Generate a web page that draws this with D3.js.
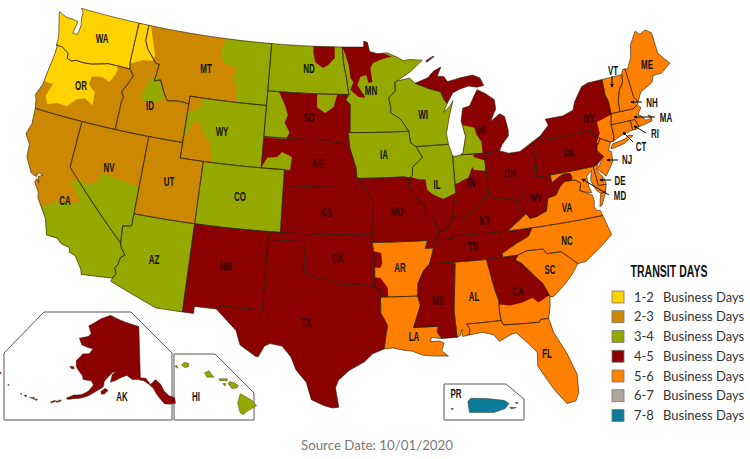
<!DOCTYPE html>
<html>
<head>
<meta charset="utf-8">
<script src="https://d3js.org/d3.v7.min.js"></script>
<style>
html, body { margin: 0; background: #fff; }
svg { display: block; }
.st { font-family: "Liberation Sans", sans-serif; font-weight: bold; font-size: 12px; text-anchor: middle; }
.lg { font-family: Lato, sans-serif; font-size: 13px; fill: #333; }
</style>
</head>
<body>
<script>
// legend
const dayRanges = ["1-2", "2-3", "3-4", "4-5", "5-6", "6-7", "7-8"];
const dayColors = ["#FFD200", "#CC8800", "#94A800", "#8B0000", "#FF8000", "#AFA79B", "#0A7C99"];

// state outlines, lon/lat
const WA = [[-122.76,49],[-117.03,49],[-117.04,46.42],[-116.92,45.99],[-118.98,46],[-119.3,45.93],[-120.5,45.7],[-121.2,45.65],[-121.9,45.68],[-122.3,45.55],[-122.76,45.65],[-122.8,45.95],[-123.2,46.15],[-123.55,46.26],[-124.05,46.27],[-124.07,46.7],[-124.15,47],[-124.4,47.6],[-124.72,48.38],[-123.9,48.17],[-123.1,48.15],[-122.75,48.1],[-122.9,47.3],[-122.45,47.3],[-122.35,47.9],[-122.5,48.4],[-122.5,48.75]];
const OR = [[-124.05,46.27],[-123.55,46.26],[-123.2,46.15],[-122.8,45.95],[-122.76,45.65],[-122.3,45.55],[-121.9,45.68],[-121.2,45.65],[-120.5,45.7],[-119.3,45.93],[-118.98,46],[-116.92,45.99],[-116.48,45.6],[-116.85,44.95],[-117.2,44.45],[-117.03,44.25],[-116.93,44.1],[-117.03,43.85],[-117.03,42],[-120,42],[-124.21,42],[-124.4,42.6],[-124.55,42.84],[-124.2,43.6],[-124.1,44.6],[-123.97,45.5],[-123.95,46.18]];
const CA = [[-124.21,42],[-120,42],[-120,39],[-114.63,35],[-114.57,34.8],[-114.14,34.3],[-114.43,34.1],[-114.53,33.6],[-114.72,33.4],[-114.52,33.03],[-114.72,32.72],[-117.12,32.53],[-117.25,32.85],[-117.9,33.6],[-118.4,33.74],[-118.5,34.03],[-119.2,34.15],[-119.6,34.42],[-120.47,34.45],[-120.65,34.9],[-120.85,35.4],[-121.9,36.6],[-122,36.95],[-122.5,37.5],[-122.4,37.75],[-122.15,37.5],[-122.35,37.9],[-122,38.05],[-122.4,38.15],[-122.5,37.85],[-123,38],[-123.7,38.9],[-123.8,39.7],[-124.35,40.3],[-124.1,41]];
const NV = [[-120,42],[-114.04,42],[-114.04,36.2],[-114.75,36.1],[-114.63,35],[-120,39]];
const ID = [[-117.03,49],[-116.05,49],[-116.05,48],[-115.7,47.5],[-114.7,46.7],[-114.35,46.65],[-114.5,45.55],[-113.95,45.7],[-113.45,44.95],[-113,44.45],[-112.3,44.55],[-111.5,44.55],[-111.05,44.48],[-111.05,42],[-114.04,42],[-117.03,42],[-117.03,43.85],[-116.93,44.1],[-117.03,44.25],[-117.2,44.45],[-116.85,44.95],[-116.48,45.6],[-116.92,45.99],[-117.04,46.42]];
const MT = [[-116.05,49],[-104.05,49],[-104.05,45],[-111.05,45],[-111.05,44.48],[-111.5,44.55],[-112.3,44.55],[-113,44.45],[-113.45,44.95],[-113.95,45.7],[-114.5,45.55],[-114.35,46.65],[-114.7,46.7],[-115.7,47.5],[-116.05,48]];
const WY = [[-111.05,45],[-104.05,45],[-104.05,41],[-111.05,41]];
const UT = [[-114.04,42],[-111.05,42],[-111.05,41],[-109.05,41],[-109.05,37],[-114.04,37]];
const CO = [[-109.05,41],[-102.05,41],[-102.05,37],[-109.05,37]];
const AZ = [[-114.04,37],[-109.05,37],[-109.05,31.33],[-111.07,31.33],[-114.81,32.5],[-114.72,32.72],[-114.52,33.03],[-114.72,33.4],[-114.53,33.6],[-114.43,34.1],[-114.14,34.3],[-114.57,34.8],[-114.63,35],[-114.75,36.1],[-114.04,36.2]];
const NM = [[-109.05,37],[-103,37],[-103.04,32],[-106.62,32],[-106.53,31.78],[-108.21,31.78],[-108.21,31.33],[-109.05,31.33]];
const TX = [[-103.04,36.5],[-100,36.5],[-100,34.56],[-99.2,34.3],[-98.6,34.15],[-98.1,34.13],[-97.2,33.85],[-96.6,33.85],[-95.5,33.88],[-94.48,33.64],[-94.04,33.55],[-94.04,33.02],[-94.04,31.99],[-93.55,31.2],[-93.7,30.5],[-93.85,29.7],[-94.7,29.4],[-95.3,28.9],[-96.4,28.35],[-97.2,27.7],[-97.4,27.2],[-97.15,25.96],[-97.6,25.9],[-98.2,26.05],[-99.1,26.4],[-99.5,27.5],[-100.3,28.3],[-100.7,29.1],[-101.4,29.77],[-102.3,29.88],[-102.7,29.7],[-103.1,28.98],[-103.3,29],[-104.5,29.65],[-104.9,30.55],[-106,31.39],[-106.53,31.78],[-106.62,32],[-103.04,32]];
const OK = [[-103,37],[-94.62,37],[-94.62,36.5],[-94.43,35.4],[-94.48,33.64],[-95.5,33.88],[-96.6,33.85],[-97.2,33.85],[-98.1,34.13],[-98.6,34.15],[-99.2,34.3],[-100,34.56],[-100,36.5],[-103.04,36.5]];
const KS = [[-102.05,40],[-95.3,40],[-94.9,39.75],[-94.61,39.11],[-94.62,37],[-102.05,37]];
const NE = [[-104.05,43],[-98.5,43],[-97.9,42.8],[-97.2,42.85],[-96.45,42.49],[-96.1,41.7],[-95.9,41.2],[-95.85,40.7],[-95.3,40],[-102.05,40],[-102.05,41],[-104.05,41]];
const SD = [[-104.05,45.94],[-96.56,45.94],[-96.85,45.6],[-96.45,45.3],[-96.45,43.5],[-96.6,43.5],[-96.45,42.49],[-97.2,42.85],[-97.9,42.8],[-98.5,43],[-104.05,43]];
const ND = [[-104.05,49],[-97.23,49],[-97.1,48],[-96.8,47],[-96.56,45.94],[-104.05,45.94]];
const MN = [[-97.23,49],[-95.15,49],[-95.15,49.38],[-94.8,49.3],[-94.6,48.7],[-93.8,48.55],[-92.95,48.6],[-92,48.3],[-91.4,48.05],[-90.75,48.1],[-89.6,48],[-90.8,47.3],[-92.1,46.75],[-92.29,46.66],[-92.29,46.1],[-92.9,45.7],[-92.75,45],[-92.8,44.75],[-91.9,44.3],[-91.22,43.5],[-96.45,43.5],[-96.45,45.3],[-96.85,45.6],[-96.56,45.94],[-96.8,47],[-97.1,48]];
const IA = [[-96.6,43.5],[-91.22,43.5],[-91.1,42.75],[-90.65,42.5],[-90.15,41.8],[-91.05,41.2],[-91.1,40.7],[-91.42,40.38],[-91.73,40.61],[-95.77,40.58],[-95.85,40.7],[-95.9,41.2],[-96.1,41.7],[-96.45,42.49]];
const MO = [[-95.77,40.58],[-91.73,40.61],[-91.42,40.38],[-91.5,40],[-90.75,39.25],[-90.7,38.9],[-90.15,38.8],[-90.2,38.4],[-89.55,37.9],[-89.15,37],[-89.45,36.5],[-89.7,36],[-90.37,36],[-90.15,36.5],[-94.62,36.5],[-94.62,37],[-94.61,39.11],[-94.9,39.75],[-95.3,40]];
const AR = [[-94.62,36.5],[-90.15,36.5],[-90.37,36],[-89.7,36],[-90.1,35],[-90.6,34.6],[-91.1,33.8],[-91.17,33],[-94.04,33.02],[-94.04,33.55],[-94.48,33.64],[-94.43,35.4]];
const LA = [[-94.04,33.02],[-91.17,33],[-91,32.4],[-91.6,31],[-89.73,31],[-89.85,30.65],[-89.55,30.2],[-90.3,30.3],[-90.4,30.05],[-89.7,30.05],[-89.4,29.9],[-89.6,29.4],[-89.15,29.05],[-90.1,29.1],[-91,29.2],[-91.8,29.5],[-92.3,29.55],[-93.2,29.75],[-93.85,29.7],[-93.7,30.5],[-93.55,31.2],[-94.04,31.99]];
const MS = [[-90.1,35],[-88.2,35],[-88.1,34.9],[-88.47,31.9],[-88.4,30.2],[-89.55,30.2],[-89.85,30.65],[-89.73,31],[-91.6,31],[-91,32.4],[-91.17,33],[-91.1,33.8],[-90.6,34.6]];
const AL = [[-88.2,35],[-85.6,34.98],[-85.18,32.87],[-85,32.3],[-85.05,31.55],[-85,31],[-87.6,31],[-87.4,30.65],[-87.5,30.28],[-88,30.23],[-88,30.7],[-88.15,30.3],[-88.4,30.2],[-88.47,31.9],[-88.1,34.9]];
const TN = [[-89.45,36.5],[-88.05,36.5],[-88.07,36.68],[-83.68,36.6],[-81.68,36.59],[-82.05,36.1],[-83.1,35.75],[-84.3,35.25],[-84.32,34.99],[-85.6,34.98],[-88.2,35],[-90.1,35],[-89.7,36]];
const KY = [[-89.45,36.5],[-89.15,37],[-88.5,37.1],[-88.05,37.8],[-87.1,37.8],[-86.5,38],[-85.8,38.28],[-85.4,38.72],[-84.8,39.1],[-84.2,38.8],[-83.7,38.65],[-82.85,38.6],[-82.6,38.2],[-81.97,37.54],[-83.68,36.6],[-88.07,36.68],[-88.05,36.5]];
const VA = [[-83.68,36.6],[-81.97,37.54],[-81.7,37.2],[-81.2,37.25],[-80.3,37.5],[-80,38.3],[-79.3,38.4],[-78.9,38.85],[-78.4,39.15],[-77.83,39.13],[-77.5,39.1],[-77.1,38.85],[-77.3,38.4],[-76.95,38.25],[-76.35,37.95],[-76.3,37.55],[-76.4,37.25],[-76.3,36.95],[-75.98,36.9],[-75.87,36.55],[-81.68,36.59]];
const VA_SHORE = [[-75.95,37.15],[-75.65,37.95],[-75.2,38.03],[-75.75,37.2]];
const WV = [[-82.6,38.2],[-82.2,38.6],[-81.75,39],[-81.7,39.25],[-80.85,39.7],[-80.65,40.6],[-80.52,40.64],[-80.52,39.72],[-79.48,39.72],[-79.48,39.2],[-78.9,39.45],[-78.4,39.62],[-77.83,39.6],[-77.72,39.32],[-77.83,39.13],[-78.4,39.15],[-78.9,38.85],[-79.3,38.4],[-80,38.3],[-80.3,37.5],[-81.2,37.25],[-81.7,37.2],[-81.97,37.54]];
const OH = [[-84.8,41.7],[-83.45,41.73],[-82.7,41.5],[-81.7,41.5],[-80.52,41.98],[-80.52,40.64],[-80.65,40.6],[-80.85,39.7],[-81.7,39.25],[-81.75,39],[-82.2,38.6],[-82.6,38.2],[-82.85,38.6],[-83.7,38.65],[-84.2,38.8],[-84.8,39.1]];
const IN = [[-87.53,41.72],[-87.2,41.7],[-86.8,41.76],[-84.8,41.7],[-84.8,39.1],[-85.4,38.72],[-85.8,38.28],[-86.5,38],[-87.1,37.8],[-88.05,37.8],[-87.55,39.35]];
const IL = [[-90.65,42.5],[-87.8,42.5],[-87.53,41.72],[-87.55,39.35],[-88.05,37.8],[-88.5,37.1],[-89.15,37],[-89.55,37.9],[-90.2,38.4],[-90.15,38.8],[-90.7,38.9],[-90.75,39.25],[-91.5,40],[-91.42,40.38],[-91.1,40.7],[-91.05,41.2],[-90.15,41.8]];
const WI = [[-92.29,46.66],[-92.1,46.75],[-90.9,46.9],[-90.4,46.55],[-89.1,46.13],[-88.1,45.9],[-87.85,45.35],[-87.6,45.1],[-88,44.55],[-87.4,44.9],[-87.05,45.25],[-87.5,44.3],[-87.9,43.2],[-87.8,42.5],[-90.65,42.5],[-91.1,42.75],[-91.22,43.5],[-91.9,44.3],[-92.8,44.75],[-92.75,45],[-92.9,45.7],[-92.29,46.1]];
const MI_UP = [[-90.4,46.55],[-89.1,46.13],[-88.1,45.9],[-87.85,45.35],[-87.6,45.1],[-87,45.75],[-86.3,45.95],[-85.5,46.08],[-84.75,45.95],[-84.1,46],[-84.35,46.5],[-85,46.75],[-86.1,46.67],[-87.4,46.5],[-87.7,46.85],[-88.3,46.9],[-87.9,47.47],[-88.6,47.25],[-89.2,46.85]];
const MI_LOW = [[-86.8,41.76],[-84.8,41.7],[-83.45,41.73],[-83.15,42.1],[-82.5,42.6],[-82.45,43],[-82.6,43.85],[-83,44.07],[-83.9,43.65],[-83.3,44.4],[-83.3,45],[-84.1,45.5],[-84.75,45.78],[-85.1,45.4],[-85.6,44.8],[-86.25,44.7],[-86.5,43.9],[-86.25,42.9],[-86.6,41.9]];
const MI_ISLE = [[-89.2,47.85],[-88.45,48.18],[-88.6,48.2],[-89.25,47.95]];
const PA = [[-80.52,41.98],[-79.76,42.27],[-79.76,42],[-75.35,42],[-75.05,41.6],[-74.7,41.36],[-75.1,40.95],[-75.2,40.65],[-74.75,40.2],[-75.4,39.8],[-75.79,39.72],[-80.52,39.72]];
const NY = [[-79.76,42.27],[-78.9,42.85],[-79.05,43.27],[-77.5,43.27],[-76.5,43.5],[-76.2,44],[-75.3,44.85],[-74.7,45],[-73.35,45],[-73.4,44],[-73.25,43.55],[-73.27,42.75],[-73.5,42.05],[-73.5,41.3],[-73.65,41],[-73.9,41],[-74.7,41.36],[-75.05,41.6],[-75.35,42],[-79.76,42]];
const LONG_ISLAND = [[-74,40.6],[-73.75,40.85],[-72.6,40.98],[-72.3,41.15],[-71.9,41.05],[-72.8,40.7],[-73.9,40.55]];
const NJ = [[-74.7,41.36],[-73.9,41],[-74.25,40.5],[-74,40.4],[-74.1,39.75],[-74.9,38.95],[-75.5,39.5],[-74.75,40.2],[-75.2,40.65],[-75.1,40.95]];
const DE = [[-75.79,39.72],[-75.4,39.8],[-75.55,39.45],[-75.1,38.8],[-75.05,38.45],[-75.7,38.46]];
const MD = [[-79.48,39.72],[-75.79,39.72],[-75.7,38.46],[-75.05,38.45],[-75.2,38.03],[-75.65,37.95],[-75.95,38.2],[-76.25,38.9],[-76,39.5],[-76.5,39.2],[-76.5,38.5],[-76.35,38.1],[-76.95,38.25],[-77.3,38.4],[-77.1,38.85],[-77.5,39.1],[-77.83,39.13],[-77.72,39.32],[-77.83,39.6],[-78.4,39.62],[-78.9,39.45],[-79.48,39.2]];
const CT = [[-73.5,42.05],[-71.8,42.02],[-71.8,41.4],[-72.9,41.25],[-73.65,41],[-73.5,41.3]];
const RI = [[-71.8,42.02],[-71.38,42.02],[-71.2,41.5],[-71.5,41.37],[-71.8,41.4]];
const MA = [[-73.27,42.75],[-72.46,42.73],[-71.3,42.7],[-70.85,42.87],[-70.6,42.65],[-71,42.3],[-70.6,41.95],[-70.5,41.78],[-70,41.8],[-70.2,42.07],[-69.95,41.95],[-69.97,41.65],[-70.65,41.55],[-71.2,41.5],[-71.38,42.02],[-71.8,42.02],[-73.5,42.05]];
const VT = [[-73.35,45],[-71.5,45],[-71.6,44.5],[-72.05,44.1],[-72.4,43.4],[-72.45,43],[-72.46,42.73],[-73.27,42.75],[-73.25,43.55],[-73.4,44]];
const NH = [[-71.5,45],[-71.3,45.3],[-71.08,45.3],[-70.98,43.4],[-70.7,43.07],[-70.85,42.87],[-71.3,42.7],[-72.46,42.73],[-72.45,43],[-72.4,43.4],[-72.05,44.1],[-71.6,44.5]];
const ME = [[-71.08,45.3],[-70.85,45.25],[-70.3,45.9],[-70,46.7],[-69.23,47.46],[-68.9,47.18],[-68.3,47.36],[-67.8,47.07],[-67.8,45.7],[-67.45,45.3],[-67,44.85],[-68,44.4],[-68.8,44.4],[-69.05,44],[-69.8,43.75],[-70.25,43.6],[-70.7,43.07],[-70.98,43.4]];
const NC = [[-84.32,34.99],[-84.3,35.25],[-83.1,35.75],[-82.05,36.1],[-81.68,36.59],[-75.87,36.55],[-75.5,35.25],[-76.5,34.65],[-77.9,33.9],[-78.55,33.86],[-79.67,34.8],[-80.8,34.82],[-81.05,35.15],[-82.35,35.2],[-83.1,35]];
const SC = [[-83.1,35],[-82.35,35.2],[-81.05,35.15],[-80.8,34.82],[-79.67,34.8],[-78.55,33.86],[-79.2,33.2],[-79.9,32.65],[-80.85,32.05],[-81.1,32.1],[-81.5,33],[-82,33.5],[-82.9,34.45],[-83.35,34.7]];
const GA = [[-85.6,34.98],[-84.32,34.99],[-83.1,35],[-83.35,34.7],[-82.9,34.45],[-82,33.5],[-81.5,33],[-81.1,32.1],[-81.2,31.5],[-81.45,30.72],[-82.05,30.75],[-82.2,30.57],[-84.86,30.7],[-85,31],[-85.05,31.55],[-85,32.3],[-85.18,32.87]];
const FL = [[-87.6,31],[-85,31],[-84.86,30.7],[-82.2,30.57],[-82.05,30.75],[-81.45,30.72],[-81.25,29.8],[-80.55,28.4],[-80.05,26.9],[-80.15,25.7],[-80.45,25.2],[-81.1,25.13],[-81.8,26.1],[-82.15,26.7],[-82.75,27.8],[-82.65,28.7],[-83.4,29.5],[-84,30.1],[-84.35,30.05],[-85.3,29.68],[-85.7,30.15],[-86.5,30.38],[-87.5,30.28],[-87.4,30.65]];

// insets
const AK_MAIN = [[-141,69.65],[-141,60.3],[-139,60.2],[-137.5,59],[-135.5,59.8],[-134,58.9],[-133,57.5],[-131.8,56.6],[-130,56],[-130.05,55],[-131,55],[-132,55],[-133.5,55.2],[-134.7,56.2],[-135.8,57.2],[-136.6,58.2],[-138,59],[-139.7,59.7],[-142,60],[-144,60],[-146,60.7],[-148,60.3],[-149.5,59.8],[-151.8,59.2],[-151.5,60.7],[-150,61.2],[-151.5,61],[-153,60],[-154,59.2],[-154,58.2],[-156.5,57],[-158.5,56],[-161,55.2],[-163.5,54.7],[-164.8,54.6],[-163,55.5],[-160.5,56],[-158.6,57],[-157.5,58.2],[-158.5,58.8],[-161.5,58.7],[-162,59.3],[-164,60],[-165.3,60.6],[-166,61.6],[-165,62.5],[-164.5,63.1],[-162,63.5],[-161,64.5],[-163,64.5],[-166,64.6],[-168.1,65.6],[-164.5,66.5],[-163.7,67.1],[-166,68.3],[-163,69.5],[-161,70.3],[-156.7,71.3],[-152,70.8],[-148,70.4],[-144,70]];
const AK_KODIAK = [[-154.6,57.3],[-153.3,58],[-152.2,57.7],[-153.2,57],[-154.2,56.8]];
const AK_NUNIVAK = [[-167.4,60.2],[-166,60.4],[-165.7,60],[-166.8,59.9]];
const AK_UNIMAK = [[-164.9,54.6],[-163.3,55.1],[-163.2,54.7],[-164.5,54.4]];
const AK_UNALASKA = [[-167.8,53.3],[-166.2,53.95],[-166.2,53.7],[-167.2,53.25]];
const AK_UMNAK = [[-169,52.9],[-167.9,53.5],[-167.9,53.2],[-168.9,52.7]];
const AK_AMLIA = [[-173.9,52.1],[-172.9,52.35],[-173,52.1]];
const AK_ATKA = [[-175.3,52],[-174,52.4],[-173.9,52.1]];
const AK_ADAK = [[-177,51.9],[-176.2,52.1],[-176.3,51.75]];
const AK_TANAGA = [[-178.2,51.9],[-177.7,51.9],[-177.8,51.7]];
const AK_KISKA = [[-182.7,52],[-182.3,52.1],[-182.4,51.85]];
const AK_ATTU = [[-187.2,52.95],[-186.2,53],[-186.4,52.75]];
const HI_BIG = [[-155.88,20.26],[-155.6,20.13],[-155.1,19.85],[-154.8,19.52],[-155.5,19.12],[-155.68,18.93],[-155.9,19.1],[-156.06,19.7]];
const HI_MAUI = [[-156.7,20.9],[-156.6,21.03],[-156.25,20.93],[-156,20.78],[-156.1,20.63],[-156.45,20.6]];
const HI_MOLOKAI = [[-157.3,21.2],[-156.75,21.2],[-156.75,21.07],[-157.25,21.08]];
const HI_LANAI = [[-157.05,20.9],[-156.85,20.9],[-156.9,20.75]];
const HI_OAHU = [[-158.27,21.57],[-157.97,21.7],[-157.65,21.3],[-158.1,21.3]];
const HI_KAUAI = [[-159.8,22.05],[-159.6,22.22],[-159.3,22.13],[-159.35,21.93],[-159.6,21.9]];
const HI_NIIHAU = [[-160.25,21.98],[-160.1,22.02],[-160.05,21.85]];
const PR_MAIN = [[-67.27,18.37],[-67.15,18.5],[-66.5,18.49],[-65.8,18.42],[-65.6,18.3],[-65.75,18.1],[-66.2,17.95],[-66.9,17.95],[-67.2,17.95]];
const PR_VIEQUES = [[-65.58,18.15],[-65.3,18.14],[-65.5,18.08]];
const PR_CULEBRA = [[-65.35,18.33],[-65.22,18.33],[-65.3,18.28]];
const PR_MONA = [[-67.95,18.1],[-67.85,18.1],[-67.9,18.05]];

// state code, transit days of most of the state, rings
const lower48 = [
  ["WA","1-2",[WA]], ["OR","2-3",[OR]], ["CA","2-3",[CA]], ["NV","2-3",[NV]], ["ID","2-3",[ID]], ["MT","2-3",[MT]],
  ["WY","3-4",[WY]], ["UT","2-3",[UT]], ["CO","3-4",[CO]], ["AZ","3-4",[AZ]], ["NM","4-5",[NM]], ["TX","4-5",[TX]],
  ["OK","4-5",[OK]], ["KS","4-5",[KS]], ["NE","4-5",[NE]], ["SD","4-5",[SD]], ["ND","3-4",[ND]], ["MN","3-4",[MN]],
  ["IA","3-4",[IA]], ["MO","4-5",[MO]], ["AR","5-6",[AR]], ["LA","5-6",[LA]], ["MS","4-5",[MS]], ["AL","5-6",[AL]],
  ["TN","4-5",[TN]], ["KY","4-5",[KY]], ["VA","5-6",[VA,VA_SHORE]], ["WV","4-5",[WV]], ["OH","4-5",[OH]], ["IN","4-5",[IN]],
  ["IL","3-4",[IL]], ["WI","3-4",[WI]], ["MI","4-5",[MI_UP,MI_LOW,MI_ISLE]], ["PA","4-5",[PA]], ["NY","4-5",[NY]],
  ["LI","5-6",[LONG_ISLAND]], ["NJ","5-6",[NJ]], ["DE","5-6",[DE]], ["MD","5-6",[MD]], ["CT","5-6",[CT]], ["RI","5-6",[RI]],
  ["MA","5-6",[MA]], ["VT","5-6",[VT]], ["NH","5-6",[NH]], ["ME","5-6",[ME]], ["NC","5-6",[NC]], ["SC","5-6",[SC]],
  ["GA","4-5",[GA]], ["FL","5-6",[FL]]
];
const alaskaRings = [AK_MAIN,AK_KODIAK,AK_NUNIVAK,AK_UNIMAK,AK_UNALASKA,AK_UMNAK,AK_AMLIA,AK_ATKA,AK_ADAK,AK_TANAGA,AK_KISKA,AK_ATTU];
const hawaiiRings = [HI_BIG,HI_MAUI,HI_MOLOKAI,HI_LANAI,HI_OAHU,HI_KAUAI,HI_NIIHAU];
const puertoRicoRings = [PR_MAIN,PR_VIEQUES,PR_CULEBRA,PR_MONA];

// areas inside a state that differ from the rest of it
const zones = [
  ["1-2", [[-118.19,46.3],[-118,45.69],[-118.2,45.26],[-118.51,44.87],[-119.21,45.07],[-120.15,44.95],[-120.22,44.4],[-119.55,44],[-119.43,43.17],[-120.26,43.48],[-120.98,43.26],[-121.59,42.69],[-122.5,42.72],[-123.31,42.49],[-123.66,42.96],[-123.33,43.81],[-124.14,43.8],[-125,43.8],[-125,46.3]]],
  ["1-2", [[-117.2,49.1],[-115.9,49.1],[-114.9,47.2],[-115,46.8],[-116,46.7],[-117.2,46.25]]],
  ["3-4", [[-114.87,45.75],[-114.08,45.78],[-113.67,45.13],[-113.17,44.75],[-113.82,44.3],[-114.91,44.09],[-115.41,44.47],[-115.24,45.02]]],
  ["3-4", [[-114,38.74],[-115.75,38.93],[-117.23,39.12],[-117.47,38.51],[-118.22,38.18],[-118.95,38.38],[-119.71,38.12],[-118.61,37.14],[-118.68,36.81],[-120.32,36.66],[-121.43,36.14],[-123,36.1],[-123,31],[-114,31]]],
  ["3-4", [[-108.3,49.2],[-108.86,48.17],[-108.44,47.43],[-107.09,47.17],[-107.36,46.56],[-106.96,45.9],[-106.92,45.2],[-106.9,44.95],[-103.9,44.95],[-103.9,49.2]]],
  ["2-3", [[-111.2,45.1],[-109.85,45.1],[-109.93,44.43],[-110.59,44.1],[-111.2,44]]],
  ["2-3", [[-111.2,40.95],[-108.4,40.95],[-108.41,41.24],[-108.67,42.24],[-109.49,42.86],[-109.76,43.42],[-110.39,43.42],[-110.58,43.02],[-110.93,42.41],[-111.2,42.4]]],
  ["4-5", [[-100,49.1],[-97.97,49.1],[-97.93,48.28],[-98.55,47.81],[-99.01,47.61],[-99.78,47.97],[-100,48.6]]],
  ["3-4", [[-104.2,46],[-103.06,46],[-102.38,45.12],[-102.06,44.49],[-102.31,43.97],[-101.81,43.4],[-102.06,42.95],[-104.2,42.95]]],
  ["3-4", [[-99.5,46.05],[-97.6,46.05],[-97.95,45.1],[-98.71,44.72],[-99.45,45.08]]],
  ["3-4", [[-104.1,41],[-104,41.1],[-103.61,41.67],[-102.76,41.77],[-102.35,42.11],[-101.47,41.83],[-101.57,41]]],
  ["4-5", [[-97.25,49.05],[-95,49.5],[-94.65,49.5],[-94.65,48.9],[-94.1,48.66],[-93.35,48.6],[-92.5,48.34],[-92.97,48.28],[-93.63,48.15],[-94.28,47.96],[-94.56,47.64],[-94.37,46.74],[-94.75,46.68],[-94.94,47.19],[-95.5,47.06],[-95.78,46.55],[-95.03,45.72],[-95.68,45.78],[-96.43,46.23],[-96.15,46.74],[-96.43,47],[-96.6,47.83],[-96.9,48.47]]],
  ["3-4", [[-87,43.7],[-86.47,43.65],[-85.39,43.38],[-85.27,42.93],[-84.91,42.45],[-84.92,41.72],[-87,41.76]]],
  ["3-4", [[-87.7,41.8],[-85.6,41.72],[-85.79,41.55],[-84.81,41.23],[-84.89,40.59],[-85.81,40.71],[-85.95,40.92],[-86.37,40.25],[-86.81,40.15],[-87.25,39.99],[-87.7,39.9]]],
  ["4-5", [[-92,40.59],[-91.25,40.59],[-90.6,40.41],[-90.01,40.37],[-89.92,39.72],[-89.45,39.38],[-88.64,39.06],[-87.58,39.37],[-87.3,39.37],[-87.3,36.5],[-92,36.5]]],
  ["5-6", [[-73.34,42.68],[-74.66,42.44],[-74.63,41.72],[-75.08,41.13],[-73.5,40.9],[-73,41.5]]],
  ["4-5", [[-94.7,36],[-93.92,35.83],[-93.84,35.19],[-94,34.87],[-94.7,34.94]]],
  ["4-5", [[-94.7,34.3],[-94,34.23],[-93.45,33.59],[-93.45,33.02],[-94.7,33.02]]],
  ["5-6", [[-85.3,32.05],[-85.14,32.05],[-84.17,31.88],[-83.24,31.97],[-82.43,32.19],[-82.03,31.83],[-81.29,32.13],[-80.8,32.13],[-80.8,30],[-85.3,30]]]
];

// labels and callouts, placed on the page
const stateLabels = [["WA",102,38],["OR",81,85],["ID",150,105],["MT",206,68],["WY",222,131],["ND",309,68],["SD",309,117],["NE",318,163],["KS",326,212],["NV",109,167],["UT",169,181],["CO",240,196],["CA",65,200],["AZ",154,259],["NM",226,266],["OK",338,258],["TX",306,322],["MN",371,90],["IA",384,154],["WI",423,114],["IL",437,184],["IN",471,182],["MI",482,129],["OH",510,173],["KY",485,220],["TN",473,246],["WV",536,197],["PA",569,153],["NY",589,118],["VA",567,207],["NC",567,240],["SC",550,269],["GA",518,291],["FL",547,353],["AL",474,296],["MS",438,300],["LA",414,336],["AR",400,267],["MO",397,211],["ME",647,64],["AK",122,396],["HI",196,396],["PR",456,393]];
const callouts = [["VT",613,70,612,76,612,87],["NH",652,102,642,102,631,102],["MA",666,117,655,117,634,117],["RI",655,133,646,133,634,126],["CT",641,146,633,142,623,132],["NJ",627,159,618,160,607,160],["DE",620,180,611,180,600,180],["MD",620,195,609,195,582,179]];
const darkLabels = ["NM","TX","OK","KS","NE","SD","MO","KY","TN","WV","OH","IN","MI","PA","NY","MS","GA"];

const width = 750, height = 459;
const dayColor = d3.scaleOrdinal(dayRanges, dayColors);

// straight lines on the lon/lat grid, so the long borders follow the parallels
function densify(ring) {
  const out = [];
  ring.forEach((p, i) => {
    const q = ring[(i + 1) % ring.length];
    const n = Math.ceil(Math.max(Math.abs(q[0] - p[0]), Math.abs(q[1] - p[1])));
    d3.range(n).forEach(k => out.push([p[0] + (q[0] - p[0]) * k / n, p[1] + (q[1] - p[1]) * k / n]));
  });
  out.push(out[0].slice());
  return out;
}
function toFeature(rings) {
  const polys = rings.map(r => {
    let ring = densify(r);
    if (d3.geoArea({type: "Polygon", coordinates: [ring]}) > 2 * Math.PI) ring = ring.reverse();
    return [ring];
  });
  return {type: "MultiPolygon", coordinates: polys};
}

const svg = d3.select("body").append("svg").attr("width", width).attr("height", height);

const mainProj = d3.geoConicEqualArea().parallels([29.5, 45.5]).rotate([96, 0]).center([0, 38.7]).scale(893).translate([355, 208]);
const akProj = d3.geoConicEqualArea().parallels([55, 65]).rotate([143, 0]).center([0, 65]).scale(315).translate([135, 352]);
const hiProj = d3.geoMercator().center([-157.5, 20.5]).scale(860).translate([216, 390]);
const prProj = d3.geoMercator().center([-66.45, 18.2]).scale(1415).translate([488, 406]);
const mainPath = d3.geoPath(mainProj);

svg.append("defs").append("clipPath").attr("id", "us48")
  .selectAll("path").data(lower48).join("path").attr("d", d => mainPath(toFeature(d[2])));
svg.select("defs").append("marker").attr("id", "tip")
  .attr("viewBox", "0 0 6 6").attr("refX", 5).attr("refY", 3)
  .attr("markerWidth", 4).attr("markerHeight", 4).attr("orient", "auto")
  .append("path").attr("d", "M0,0L6,3L0,6Z").attr("fill", "#000");

// lower 48
svg.append("g").selectAll("path").data(lower48).join("path")
  .attr("d", d => mainPath(toFeature(d[2])))
  .attr("fill", d => dayColor(d[1]));
svg.append("g").attr("clip-path", "url(#us48)")
  .selectAll("path").data(zones).join("path")
  .attr("d", d => mainPath(toFeature([d[1]])))
  .attr("fill", d => dayColor(d[0]));
svg.append("g").selectAll("path").data(lower48).join("path")
  .attr("d", d => mainPath(toFeature(d[2])))
  .attr("fill", "none").attr("stroke", "#2a1a05").attr("stroke-width", 0.6);

// inset frames
const frames = [
  [[4,353],[44,312],[131,312],[172,353],[172,420],[4,420]],
  [[174,354],[215,354],[254,393],[254,420],[174,420]],
  [[444,384],[506,384],[524,399],[524,420],[444,420]]
];
svg.append("g").selectAll("path").data(frames).join("path")
  .attr("d", d => d3.line()(d) + "Z")
  .attr("fill", "#fff").attr("stroke", "#555").attr("stroke-width", 1);

const insets = [[akProj, alaskaRings, "4-5"], [hiProj, hawaiiRings, "3-4"], [prProj, puertoRicoRings, "7-8"]];
svg.append("g").selectAll("path").data(insets).join("path")
  .attr("d", d => d3.geoPath(d[0])(toFeature(d[1])))
  .attr("fill", d => dayColor(d[2])).attr("stroke", "#2a1a05").attr("stroke-width", 0.4);

// labels, squeezed since no condensed face is installed
svg.append("g").selectAll("text").data(stateLabels).join("text")
  .attr("class", "st").attr("transform", d => `translate(${d[1]},${d[2] + 4.5}) scale(0.66,1.05)`)
  .attr("fill", d => darkLabels.includes(d[0]) ? "#3a0000" : "#111")
  .text(d => d[0]);
svg.append("g").selectAll("text").data(callouts).join("text")
  .attr("class", "st").attr("transform", d => `translate(${d[1]},${d[2] + 4.5}) scale(0.66,1.05)`).attr("fill", "#111")
  .text(d => d[0]);
svg.append("g").selectAll("line").data(callouts).join("line")
  .attr("x1", d => d[3]).attr("y1", d => d[4]).attr("x2", d => d[5]).attr("y2", d => d[6])
  .attr("stroke", "#000").attr("stroke-width", 1).attr("marker-end", "url(#tip)");

// legend
const legendY = d3.scalePoint().domain(dayRanges).range([297, 415.5]);
svg.append("text").attr("x", 630.5).attr("y", 276.5)
  .attr("font-family", "'Liberation Sans', sans-serif").attr("font-weight", "bold")
  .attr("font-size", 16).attr("fill", "#111")
  .attr("textLength", 77).attr("lengthAdjust", "spacingAndGlyphs").text("TRANSIT DAYS");
const rows = svg.append("g").selectAll("g").data(dayRanges).join("g")
  .attr("transform", d => `translate(0,${legendY(d)})`);
rows.append("rect").attr("x", 612).attr("y", -6).attr("width", 12).attr("height", 12)
  .attr("fill", d => dayColor(d)).attr("stroke", "#777").attr("stroke-width", 0.8);
rows.append("text").attr("class", "lg").attr("x", 634).attr("y", 4.5).text(d => d);
rows.append("text").attr("class", "lg").attr("x", 663).attr("y", 4.5).text("Business Days");

svg.append("text").attr("x", 377).attr("y", 450).attr("text-anchor", "middle")
  .attr("font-family", "Lato, sans-serif").attr("font-size", 13.3).attr("fill", "#777")
  .text("Source Date: 10/01/2020");
</script>
</body>
</html>
